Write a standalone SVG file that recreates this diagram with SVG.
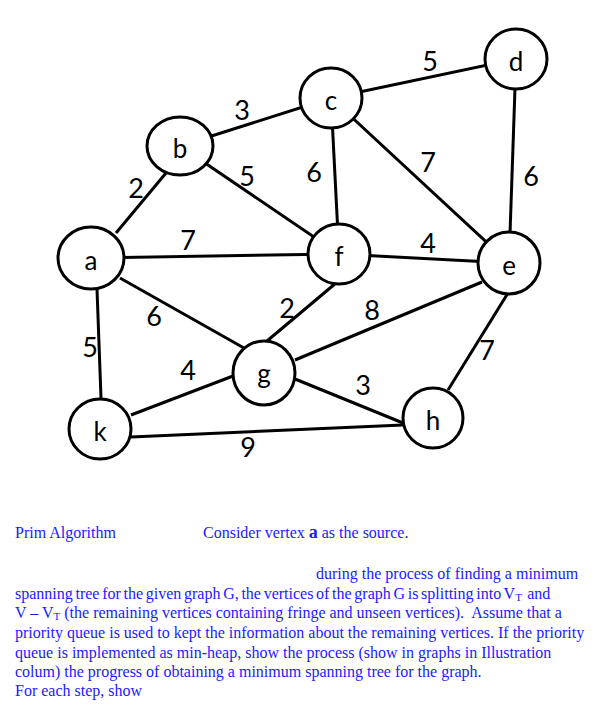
<svg xmlns="http://www.w3.org/2000/svg" width="612" height="704" viewBox="0 0 612 704">
<style>
.edge{stroke:#000;stroke-width:3;fill:none}
.node{fill:#fff;stroke:#000;stroke-width:3}
.nl{font-family:Lato,"Open Sans",sans-serif;font-size:26px;text-anchor:middle;fill:#000}
.w{font-family:Lato,"Open Sans",sans-serif;font-size:27px;text-anchor:middle;fill:#000}
.t{font-family:"Liberation Serif","Times New Roman",serif;font-size:16px;fill:#1a1aff}
</style>
<rect width="612" height="704" fill="#fff"/>
<g id="connectors">
<line class="edge" x1="116" y1="233" x2="166" y2="173"/>
<line class="edge" x1="180" y1="146" x2="331" y2="98"/>
<line class="edge" x1="180" y1="146" x2="339" y2="254"/>
<line class="edge" x1="331" y1="98" x2="516" y2="59"/>
<line class="edge" x1="331" y1="98" x2="339" y2="254"/>
<line class="edge" x1="331" y1="98" x2="509" y2="263"/>
<line class="edge" x1="516" y1="59" x2="509" y2="263"/>
<line class="edge" x1="91" y1="258" x2="339" y2="254"/>
<line class="edge" x1="339" y1="254" x2="509" y2="263"/>
<line class="edge" x1="120" y1="278" x2="244" y2="348"/>
<line class="edge" x1="97" y1="289" x2="101" y2="398"/>
<line class="edge" x1="336" y1="283" x2="267" y2="341"/>
<line class="edge" x1="295" y1="360" x2="482" y2="282"/>
<line class="edge" x1="131" y1="415" x2="233" y2="376"/>
<line class="edge" x1="295" y1="379" x2="403" y2="423"/>
<line class="edge" x1="508" y1="293" x2="448" y2="390"/>
<line class="edge" x1="131" y1="437" x2="403" y2="425"/>
</g>
<g id="weights">
<text class="w" x="136" y="198">2</text>
<text class="w" x="242" y="120">3</text>
<text class="w" x="247" y="186">5</text>
<text class="w" x="314" y="182">6</text>
<text class="w" x="188" y="250">7</text>
<text class="w" x="430" y="71">5</text>
<text class="w" x="428" y="172">7</text>
<text class="w" x="531" y="186">6</text>
<text class="w" x="428" y="253">4</text>
<text class="w" x="154" y="326">6</text>
<text class="w" x="287" y="318">2</text>
<text class="w" x="372" y="320">8</text>
<text class="w" x="90" y="357">5</text>
<text class="w" x="188" y="380">4</text>
<text class="w" x="487" y="360">7</text>
<text class="w" x="363" y="395">3</text>
<text class="w" x="248" y="457">9</text>
</g>
<g id="node-a"><ellipse class="node" cx="91" cy="258" rx="33" ry="31"/><text class="nl" x="91" y="270">a</text></g>
<g id="node-b"><ellipse class="node" cx="180" cy="146" rx="33" ry="29"/><text class="nl" x="180" y="158">b</text></g>
<g id="node-c"><ellipse class="node" cx="331" cy="98" rx="31" ry="30"/><text class="nl" x="331" y="110">c</text></g>
<g id="node-d"><ellipse class="node" cx="516" cy="59" rx="31" ry="30"/><text class="nl" x="516" y="71">d</text></g>
<g id="node-f"><ellipse class="node" cx="339" cy="254" rx="31" ry="30"/><text class="nl" x="339" y="266">f</text></g>
<g id="node-e"><ellipse class="node" cx="509" cy="263" rx="31" ry="31"/><text class="nl" x="509" y="275">e</text></g>
<g id="node-g"><ellipse class="node" cx="264" cy="373" rx="31" ry="32"/><text class="nl" x="264" y="383">g</text></g>
<g id="node-k"><ellipse class="node" cx="100" cy="429" rx="31" ry="30"/><text class="nl" x="100" y="441">k</text></g>
<g id="node-h"><ellipse class="node" cx="433" cy="418" rx="30" ry="30"/><text class="nl" x="433" y="430">h</text></g>
<g id="text">
<text class="t" x="15" y="538">Prim Algorithm</text>
<text class="t" x="203" y="538">Consider vertex <tspan font-weight="bold" font-size="18px">a</tspan> as the source.</text>
<text class="t" x="316" y="579">during the process of finding a minimum</text>
<text class="t" x="15" y="599" word-spacing="-1.3">spanning tree for the given graph G, the vertices of the graph G is splitting into V<tspan font-size="11px" dy="2">T</tspan><tspan dy="-2">&#160; and</tspan></text>
<text class="t" x="15" y="618">V – V<tspan font-size="11px" dy="2">T</tspan><tspan dy="-2"> (the remaining vertices containing fringe and unseen vertices).&#160; Assume that a</tspan></text>
<text class="t" x="15" y="638">priority queue is used to kept the information about the remaining vertices. If the priority</text>
<text class="t" x="15" y="658">queue is implemented as min-heap, show the process (show in graphs in Illustration</text>
<text class="t" x="15" y="677">colum) the progress of obtaining a minimum spanning tree for the graph.</text>
<text class="t" x="15" y="696">For each step, show</text>
</g>
</svg>
